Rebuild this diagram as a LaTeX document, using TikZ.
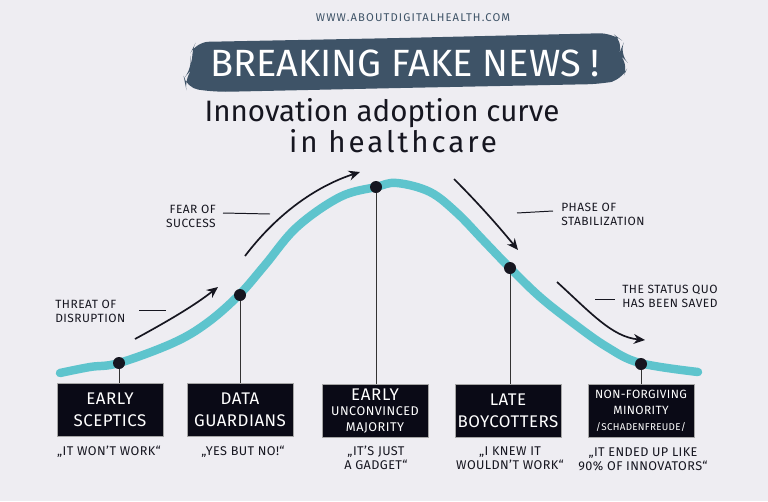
\documentclass[tikz,border=0pt]{standalone}
\usepackage{fontspec}
\setmainfont{Fira Sans}
\usetikzlibrary{arrows.meta,positioning}
\definecolor{bgcol}{RGB}{238,237,242}
\definecolor{slate}{RGB}{62,83,103}
\definecolor{curvecol}{RGB}{94,196,205}
\definecolor{ink}{RGB}{22,22,32}
\definecolor{boxcol}{RGB}{10,10,22}

\begin{document}
\begin{tikzpicture}[x=0.025cm,y=-0.025cm,>=Latex,
box/.style={draw=gray!70,fill=boxcol,text=white,align=center,minimum width=2.65cm,minimum height=1.32cm,inner sep=1pt,font=\fontsize{12}{16}\selectfont\addfontfeatures{LetterSpace=3}},
dot/.style={circle,fill=ink,inner sep=0pt,minimum size=0.3cm},
note/.style={text=ink,inner sep=0pt,font=\fontsize{8.5}{10}\selectfont\addfontfeatures{LetterSpace=4}},
quote/.style={text=ink,align=center,inner sep=0pt,font=\fontsize{9}{10}\selectfont\addfontfeatures{LetterSpace=3}},
arr/.style={-{Stealth[length=8pt,width=7pt]},ink,line width=1.2pt},
tick/.style={ink,line width=0.7pt},
stem/.style={gray!40!black,line width=0.7pt}]
\useasboundingbox[fill=bgcol] (0,0) rectangle (768,501);

% header
\node[text=slate,font=\fontsize{8}{9}\selectfont\addfontfeatures{LetterSpace=10}] (url) at (413,18) {WWW.ABOUTDIGITALHEALTH.COM};
\fill[slate,rounded corners=9pt] (196,42) -- (400,38) -- (612,33) -- (624,42) -- (619,54) -- (629,64) -- (622,80) -- (600,84) -- (400,88) -- (216,92) -- (186,88) -- (184,78) -- (193,68) -- (190,54) -- cycle;
\node[text=white,font=\fontsize{27}{30}\selectfont] (banner) at (405,63) {BREAKING FAKE NEWS !};
\node[text=ink,font=\fontsize{21}{24}\selectfont] (title) at (382,113) {Innovation adoption curve};
\node[text=ink,font=\fontsize{21}{24}\selectfont\addfontfeatures{LetterSpace=10}] (title2) at (393,141) {in healthcare};

% curve
\draw[curvecol,line width=6pt,line cap=round] plot[smooth,tension=0.6] coordinates {(60,373) (90,367) (119,363) (173,343) (207,323) (239,295) (265,265) (297,227) (340,197) (376,187) (397,183) (430,192) (457,213) (483,240) (510,268) (540,297) (573,323) (607,347) (640,363) (698,372)};

\node[dot] (d1) at (119,363) {};
\node[dot] (d2) at (240,295) {};
\node[dot] (d3) at (376,187) {};
\node[dot] (d4) at (510,268) {};
\node[dot] (d5) at (641,364) {};

% groups
\node[box] (b1) at (110,410) {EARLY\\SCEPTICS};
\node[box] (b2) at (240,410) {DATA\\GUARDIANS};
\node[box,font=\fontsize{9}{11}\selectfont\addfontfeatures{LetterSpace=4}] (b3) at (375,411) {{\fontsize{12}{12}\selectfont EARLY}\\UNCONVINCED\\MAJORITY};
\node[box] (b4) at (508,411) {LATE\\BOYCOTTERS};
\node[box,font=\fontsize{8.5}{11.5}\selectfont\addfontfeatures{LetterSpace=3}] (b5) at (641,411) {NON-FORGIVING\\MINORITY\\{\fontsize{7}{9}\selectfont /SCHADENFREUDE/}};

\draw[stem] (d1) -- (d1 |- b1.north);
\draw[stem] (d2) -- (d2 |- b2.north);
\draw[stem] (d3) -- (d3 |- b3.north);
\draw[stem] (d4) -- (d4 |- b4.north);
\draw[stem] (d5) -- (d5 |- b5.north);

\node[quote] (q1) at (109,452) {„IT WON'T WORK“};
\node[quote] (q2) at (243,452) {„YES BUT NO!“};
\node[quote] (q3) at (376,458) {„IT'S JUST\\ A GADGET“};
\node[quote] (q4) at (510,458) {„I KNEW IT\\ WOULDN'T WORK“};
\node[quote] (q5) at (643,459) {„IT ENDED UP LIKE\\ 90\% OF INNOVATORS“};

% phases
\node[note,align=left,anchor=west] (threat) at (55,311) {THREAT OF\\DISRUPTION};
\node[note,align=right,anchor=east] (fear) at (216,216) {FEAR OF\\SUCCESS};
\node[note,align=left,anchor=west] (phase) at (561,214) {PHASE OF\\STABILIZATION};
\node[note,align=left,anchor=west] (status) at (622,296) {THE STATUS QUO\\HAS BEEN SAVED};

\coordinate (t1) at (139,310); \coordinate (t2) at (166,310);
\coordinate (f1) at (223,213); \coordinate (f2) at (270,214);
\coordinate (p1) at (517,213); \coordinate (p2) at (553,211);
\coordinate (s1) at (595,299); \coordinate (s2) at (615,299);
\draw[tick] (t1) -- (t2);
\draw[tick] (f1) -- (f2);
\draw[tick] (p1) -- (p2);
\draw[tick] (s1) -- (s2);

\coordinate (a1s) at (135,339); \coordinate (a1e) at (218,287);
\coordinate (a2s) at (245,256); \coordinate (a2e) at (360,172);
\coordinate (a3s) at (454,179); \coordinate (a3e) at (518,250);
\coordinate (a4s) at (557,282); \coordinate (a4e) at (645,340);
\draw[arr] (a1s) .. controls (170,320) and (195,305) .. (a1e);
\draw[arr] (a2s) .. controls (280,210) and (320,185) .. (a2e);
\draw[arr] (a3s) .. controls (480,205) and (500,228) .. (a3e);
\draw[arr] (a4s) .. controls (590,312) and (612,337) .. (a4e);
\end{tikzpicture}
\end{document}
